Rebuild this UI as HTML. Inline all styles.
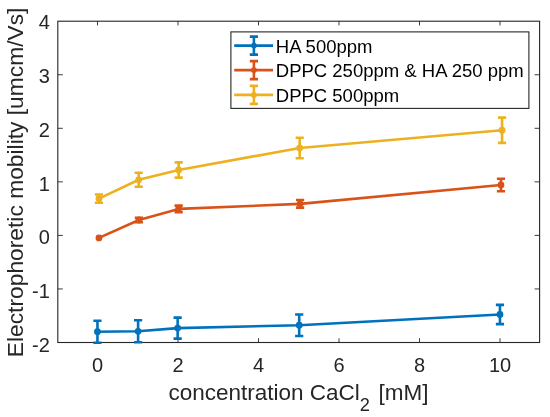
<!DOCTYPE html>
<html lang="en"><head><meta charset="utf-8"><title>Electrophoretic mobility vs CaCl2 concentration</title>
<style>html,body{margin:0;padding:0;background:#fff;overflow:hidden}svg{display:block}</style>
</head><body>
<svg width="550" height="417" viewBox="0 0 550 417" font-family="'Liberation Sans', Arial, Helvetica, sans-serif">
<rect width="550" height="417" fill="#ffffff"/>
<rect x="57.8" y="21.2" width="481.8" height="321.3" fill="#fff" stroke="#262626" stroke-width="1.1"/>
<path d="M97.50 342.5v-4.2M97.50 21.2v4.2M178.00 342.5v-4.2M178.00 21.2v4.2M258.50 342.5v-4.2M258.50 21.2v4.2M339.00 342.5v-4.2M339.00 21.2v4.2M419.50 342.5v-4.2M419.50 21.2v4.2M500.00 342.5v-4.2M500.00 21.2v4.2M57.8 288.95h5.0M539.6 288.95h-5.0M57.8 235.40h5.0M539.6 235.40h-5.0M57.8 181.85h5.0M539.6 181.85h-5.0M57.8 128.30h5.0M539.6 128.30h-5.0M57.8 74.75h5.0M539.6 74.75h-5.0" stroke="#262626" stroke-width="0.9" fill="none"/>
<g font-size="20" fill="#262626">
<text x="97.50" y="371.5" text-anchor="middle">0</text>
<text x="178.00" y="371.5" text-anchor="middle">2</text>
<text x="258.50" y="371.5" text-anchor="middle">4</text>
<text x="339.00" y="371.5" text-anchor="middle">6</text>
<text x="419.50" y="371.5" text-anchor="middle">8</text>
<text x="500.00" y="371.5" text-anchor="middle">10</text>
<text x="49.8" y="351.93" text-anchor="end">-2</text>
<text x="49.8" y="298.15" text-anchor="end">-1</text>
<text x="49.8" y="244.37" text-anchor="end">0</text>
<text x="49.8" y="190.59" text-anchor="end">1</text>
<text x="49.8" y="136.81" text-anchor="end">2</text>
<text x="49.8" y="83.03" text-anchor="end">3</text>
<text x="49.8" y="29.25" text-anchor="end">4</text>
</g>
<text x="298.5" y="400.0" text-anchor="middle" font-size="22.5" fill="#262626">concentration CaCl<tspan font-size="18.2" dy="10.8">2</tspan><tspan dy="-10.8" dx="2.4"> [mM]</tspan></text>
<text transform="translate(22.8 182.4) rotate(-90)" text-anchor="middle" font-size="22.8" fill="#262626">Electrophoretic mobility [umcm/Vs]</text>
<g stroke="#0072BD" stroke-width="2.6" fill="none" stroke-linejoin="round">
<polyline points="97.45,331.70 138.10,331.30 177.65,328.10 299.20,325.20 499.95,314.50"/>
<path d="M97.45 320.70V342.70M93.35 320.70h8.2M93.35 342.70h8.2M138.10 320.30V342.30M134.00 320.30h8.2M134.00 342.30h8.2M177.65 317.60V338.60M173.55 317.60h8.2M173.55 338.60h8.2M299.20 314.45V335.95M295.10 314.45h8.2M295.10 335.95h8.2M499.95 304.90V324.10M495.85 304.90h8.2M495.85 324.10h8.2"/>
</g>
<g fill="#0072BD"><circle cx="97.45" cy="331.70" r="3.4"/><circle cx="138.10" cy="331.30" r="3.4"/><circle cx="177.65" cy="328.10" r="3.4"/><circle cx="299.20" cy="325.20" r="3.4"/><circle cx="499.95" cy="314.50" r="3.4"/></g>
<g stroke="#D95319" stroke-width="2.6" fill="none" stroke-linejoin="round">
<polyline points="98.95,237.90 138.90,220.00 178.65,208.90 300.10,203.85 500.95,185.00"/>
<path d="M138.90 217.70V222.30M134.80 217.70h8.2M134.80 222.30h8.2M178.65 205.60V212.20M174.55 205.60h8.2M174.55 212.20h8.2M300.10 200.05V207.65M296.00 200.05h8.2M296.00 207.65h8.2M500.95 178.70V191.30M496.85 178.70h8.2M496.85 191.30h8.2"/>
</g>
<g fill="#D95319"><circle cx="98.95" cy="237.90" r="3.4"/><circle cx="138.90" cy="220.00" r="3.4"/><circle cx="178.65" cy="208.90" r="3.4"/><circle cx="300.10" cy="203.85" r="3.4"/><circle cx="500.95" cy="185.00" r="3.4"/></g>
<g stroke="#EDB120" stroke-width="2.6" fill="none" stroke-linejoin="round">
<polyline points="98.95,198.60 138.70,179.80 178.65,170.00 299.70,148.00 502.05,130.25"/>
<path d="M98.95 194.50V202.70M94.85 194.50h8.2M94.85 202.70h8.2M138.70 172.80V186.80M134.60 172.80h8.2M134.60 186.80h8.2M178.65 162.40V177.60M174.55 162.40h8.2M174.55 177.60h8.2M299.70 137.80V158.20M295.60 137.80h8.2M295.60 158.20h8.2M502.05 117.65V142.85M497.95 117.65h8.2M497.95 142.85h8.2"/>
</g>
<g fill="#EDB120"><circle cx="98.95" cy="198.60" r="3.4"/><circle cx="138.70" cy="179.80" r="3.4"/><circle cx="178.65" cy="170.00" r="3.4"/><circle cx="299.70" cy="148.00" r="3.4"/><circle cx="502.05" cy="130.25" r="3.4"/></g>
<rect x="230.9" y="31.9" width="298.0" height="76.5" fill="#fff" stroke="#262626" stroke-width="1.1"/>
<g stroke="#0072BD" stroke-width="2.6" fill="none"><path d="M234.2 45.6H273.1M253.9 36.6V54.6M249.8 36.6h8.2M249.8 54.6h8.2"/></g>
<circle cx="253.9" cy="45.6" r="2.9" fill="#0072BD"/>
<text x="275.8" y="52.6" font-size="18.5" fill="#000">HA 500ppm</text>
<g stroke="#D95319" stroke-width="2.6" fill="none"><path d="M234.2 70.1H273.1M253.9 61.099999999999994V79.1M249.8 61.099999999999994h8.2M249.8 79.1h8.2"/></g>
<circle cx="253.9" cy="70.1" r="2.9" fill="#D95319"/>
<text x="275.8" y="77.3" font-size="18.5" fill="#000">DPPC 250ppm &amp; HA 250 ppm</text>
<g stroke="#EDB120" stroke-width="2.6" fill="none"><path d="M234.2 94.9H273.1M253.9 85.9V103.9M249.8 85.9h8.2M249.8 103.9h8.2"/></g>
<circle cx="253.9" cy="94.9" r="2.9" fill="#EDB120"/>
<text x="275.8" y="102.0" font-size="18.5" fill="#000">DPPC 500ppm</text>
</svg>
</body></html>
